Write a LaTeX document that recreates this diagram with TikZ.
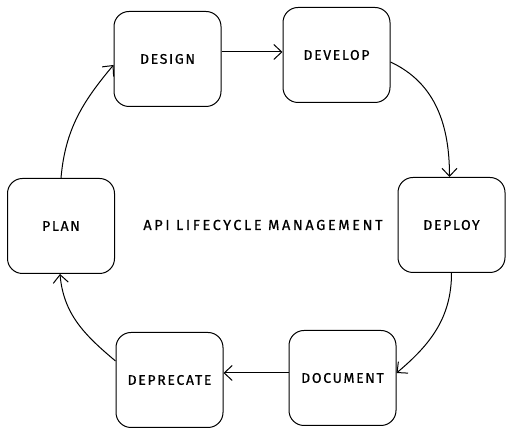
\documentclass[tikz,border=0pt]{standalone}
\usepackage{fontspec}
\setmainfont{Fira Sans}[LetterSpace=12,FakeBold=0.6]
\usetikzlibrary{arrows.meta}

\tikzset{
  stage/.style={draw,rounded corners=15pt,minimum width=107pt,minimum height=95pt,
    line width=1pt,font=\fontsize{14}{16}\selectfont},
  flow/.style={-{Straight Barb[length=8pt,width=15pt]},line width=1pt},
  title/.style={font=\fontsize{14.5}{16}\selectfont\addfontfeature{LetterSpace=18}}
}

\begin{document}
\begin{tikzpicture}[x=1pt,y=1pt]
\useasboundingbox (0,0) rectangle (512,435);
\node[stage] (design) at (167.5,376) {DESIGN};
\node[stage] (develop) at (336.5,380) {DEVELOP};
\node[stage] (deploy) at (451.5,210) {DEPLOY};
\node[stage] (document) at (342.5,57) {DOCUMENT};
\node[stage] (deprecate) at (169.5,55) {DEPRECATE};
\node[stage] (plan) at (61,209) {PLAN};
\node[title] (api) at (263,210) {API LIFECYCLE MANAGEMENT};
\draw[flow] ([yshift=7pt]design.east) -- ([yshift=3pt]develop.west);
\draw[flow] ([yshift=-7pt]develop.east) to[out=-25,in=90] ([xshift=-2pt]deploy.north);
\draw[flow] (deploy.south) to[out=-90,in=40] ([yshift=5pt]document.east);
\draw[flow] ([yshift=5pt]document.west) -- ([yshift=7pt]deprecate.east);
\draw[flow] ([yshift=19pt]deprecate.west) to[out=140,in=-85] ([xshift=-1pt]plan.south);
\draw[flow] (plan.north) to[out=85,in=-130] ([yshift=-6pt]design.west);
\end{tikzpicture}
\end{document}
